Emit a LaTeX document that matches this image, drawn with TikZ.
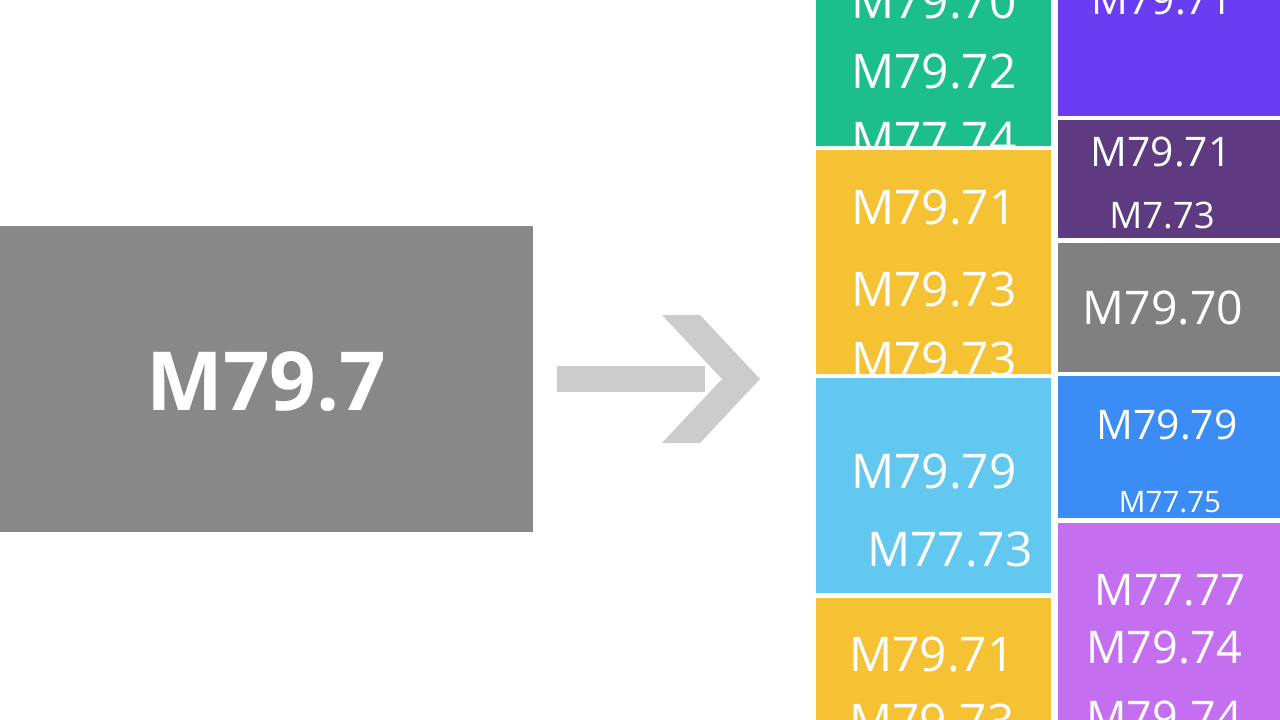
\documentclass[tikz,border=0pt]{standalone}
\usepackage{fontspec}
\setmainfont{Open Sans}
\usetikzlibrary{positioning}
\definecolor{boxgray}{HTML}{888888}
\definecolor{arrowgray}{HTML}{CCCCCC}
\definecolor{tealgreen}{HTML}{1CBE8A}
\definecolor{sunyellow}{HTML}{F4C233}
\definecolor{skyblue}{HTML}{63C8F0}
\definecolor{indigo}{HTML}{6A3CF2}
\definecolor{plum}{HTML}{5E3A80}
\definecolor{midgray}{HTML}{808080}
\definecolor{brightblue}{HTML}{3B8DF5}
\definecolor{violet}{HTML}{C46EF0}
\tikzset{
  x=0.025cm, y=-0.025cm,
  code/.style={text=white, font=\fontsize{34}{34}\selectfont, inner sep=0pt},
  rcode/.style={text=white, font=\fontsize{29}{29}\selectfont, inner sep=0pt},
  smallcode/.style={text=white, font=\fontsize{21}{21}\selectfont, inner sep=0pt},
}
\begin{document}
\begin{tikzpicture}
    \useasboundingbox[fill=white] (0,0) rectangle (1280,720);

    % source code
    \fill[boxgray] (0,226) rectangle (533,532);
    \node[text=white, font=\bfseries\fontsize{58}{58}\selectfont, inner sep=0pt] (src) at (266,382) {M79.7};

    % arrow
    \fill[arrowgray] (557,366) -- (705,366) -- (705,392) -- (557,392) -- cycle;
    \fill[arrowgray] (662,315) -- (700,315) -- (760,379) -- (700,443) -- (662,443) -- (722,379) -- cycle;

    % left column
    \begin{scope}
      \clip (816,0) rectangle (1051,146);
      \fill[tealgreen] (816,0) rectangle (1051,146);
      \node[code] (a1) at (934,2) {M79.70};
      \node[code] (a2) at (934,72) {M79.72};
      \node[code] (a3) at (934,140) {M77.74};
    \end{scope}
    \begin{scope}
      \clip (816,150) rectangle (1051,374);
      \fill[sunyellow] (816,150) rectangle (1051,374);
      \node[code] (b1) at (934,208) {M79.71};
      \node[code] (b2) at (934,290) {M79.73};
      \node[code] (b3) at (934,360) {M79.73};
    \end{scope}
    \begin{scope}
      \clip (816,378) rectangle (1051,593);
      \fill[skyblue] (816,378) rectangle (1051,593);
      \node[code] (c1) at (934,472) {M79.79};
      \node[code] (c2) at (950,550) {M77.73};
    \end{scope}
    \begin{scope}
      \clip (816,598) rectangle (1051,720);
      \fill[sunyellow] (816,598) rectangle (1051,720);
      \node[code] (d1) at (932,655) {M79.71};
      \node[code] (d2) at (932,722) {M79.73};
    \end{scope}

    % right column
    \begin{scope}
      \clip (1058,0) rectangle (1280,116);
      \fill[indigo] (1058,0) rectangle (1280,116);
      \node[rcode] (e1) at (1162,0) {M79.71};
    \end{scope}
    \begin{scope}
      \clip (1058,120) rectangle (1280,238);
      \fill[plum] (1058,120) rectangle (1280,238);
      \node[rcode] (f1) at (1161,152) {M79.71};
      \node[rcode, font=\fontsize{26}{26}\selectfont] (f2) at (1162,216) {M7.73};
    \end{scope}
    \begin{scope}
      \clip (1058,243) rectangle (1280,372);
      \fill[midgray] (1058,243) rectangle (1280,372);
      \node[rcode, font=\fontsize{33}{33}\selectfont] (g1) at (1163,308) {M79.70};
    \end{scope}
    \begin{scope}
      \clip (1058,376) rectangle (1280,518);
      \fill[brightblue] (1058,376) rectangle (1280,518);
      \node[rcode] (h1) at (1167,425) {M79.79};
      \node[smallcode] (h2) at (1170,502) {M77.75};
    \end{scope}
    \begin{scope}
      \clip (1058,523) rectangle (1280,720);
      \fill[violet] (1058,523) rectangle (1280,720);
      \node[rcode, font=\fontsize{31}{31}\selectfont] (i1) at (1170,590) {M77.77};
      \node[rcode, font=\fontsize{32}{32}\selectfont] (i2) at (1164,648) {M79.74};
      \node[rcode, font=\fontsize{32}{32}\selectfont] (i3) at (1164,718) {M79.74};
    \end{scope}
\end{tikzpicture}
\end{document}
